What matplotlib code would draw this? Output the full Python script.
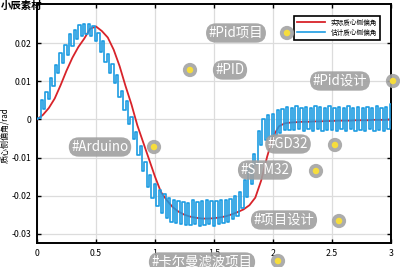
import numpy as np
import matplotlib
matplotlib.use("Agg")
import matplotlib.pyplot as plt

plt.rcParams['font.family'] = ['Noto Sans CJK SC', 'DejaVu Sans']
plt.rcParams['axes.unicode_minus'] = False

# actual sideslip angle (red), sampled every 0.05 s
red = [0.0000, 0.0012, 0.0030, 0.0055, 0.0090, 0.0128, 0.0162, 0.0190, 0.0212, 0.0238,
       0.0244, 0.0232, 0.0215, 0.0183, 0.0140, 0.0088, 0.0040, -0.0015, -0.0060, -0.0105,
       -0.0150, -0.0190, -0.0212, -0.0230, -0.0242, -0.0250, -0.0255, -0.0258, -0.0260, -0.0260,
       -0.0259, -0.0257, -0.0254, -0.0249, -0.0243, -0.0236, -0.0225, -0.0205, -0.0160, -0.0098,
       -0.0045, -0.0018, -0.0010, -0.0008, -0.0007, -0.0006, -0.0006, -0.0005, -0.0005, -0.0004,
       -0.0004, -0.0003, -0.0003, -0.0003, -0.0002, -0.0002, -0.0002, -0.0001, -0.0001, -0.0001,
       0.0000]

# estimated sideslip angle (blue), sampled every 0.02 s
blue = [0.0000, 0.0005, 0.0050, 0.0028, 0.0072, 0.0054, 0.0110, 0.0088, 0.0144, 0.0122,
        0.0175, 0.0148, 0.0195, 0.0170, 0.0223, 0.0193, 0.0236, 0.0210, 0.0247, 0.0218,
        0.0251, 0.0225, 0.0250, 0.0218, 0.0244, 0.0205, 0.0228, 0.0178, 0.0206, 0.0150,
        0.0173, 0.0123, 0.0145, 0.0095, 0.0118, 0.0058, 0.0076, 0.0025, 0.0048, -0.0012,
        0.0006, -0.0050, -0.0032, -0.0094, -0.0070, -0.0134, -0.0112, -0.0176, -0.0145, -0.0206,
        -0.0168, -0.0228, -0.0186, -0.0245, -0.0195, -0.0258, -0.0205, -0.0268, -0.0212, -0.0272,
        -0.0214, -0.0273, -0.0216, -0.0278, -0.0218, -0.0276, -0.0212, -0.0274, -0.0216, -0.0280,
        -0.0214, -0.0276, -0.0212, -0.0275, -0.0215, -0.0279, -0.0213, -0.0274, -0.0210, -0.0272,
        -0.0210, -0.0270, -0.0208, -0.0262, -0.0200, -0.0252, -0.0190, -0.0233, -0.0160, -0.0203,
        -0.0130, -0.0168, -0.0090, -0.0118, -0.0030, -0.0068, 0.0000, -0.0053, 0.0012, -0.0046,
        0.0015, -0.0042, 0.0024, -0.0035, 0.0028, -0.0028, 0.0034, -0.0028, 0.0031, -0.0027,
        0.0036, -0.0024, 0.0030, -0.0030, 0.0034, -0.0026, 0.0031, -0.0029, 0.0036, -0.0025,
        0.0032, -0.0030, 0.0029, -0.0027, 0.0035, -0.0028, 0.0030, -0.0031, 0.0033, -0.0025,
        0.0031, -0.0029, 0.0036, -0.0026, 0.0030, -0.0030, 0.0033, -0.0027, 0.0029, -0.0031,
        0.0034, -0.0026, 0.0031, -0.0029, 0.0035, -0.0027, 0.0030, -0.0030, 0.0033, -0.0025,
        0.0040]

t_red = np.linspace(0, 3, len(red))
t_blue = np.linspace(0, 3, len(blue))

legend_labels = ["实际质心侧偏角", "估计质心侧偏角"]
xticks = [0, 0.5, 1, 1.5, 2, 2.5, 3]
xtick_labels = ["0", "0.5", "1", "1.5", "2", "2.5", "3"]
yticks = [-0.03, -0.02, -0.01, 0, 0.01, 0.02]
ytick_labels = ["-0.03", "-0.02", "-0.01", "0", "0.01", "0.02"]

tags = ["#Pid项目", "#PID", "#Pid设计", "#Arduino", "#GD32", "#STM32", "#项目设计", "#卡尔曼滤波项目"]

fig = plt.figure(figsize=(4, 2.67), dpi=100)
ax = fig.add_axes([0.0925, 0.09, 0.885, 0.895])

ax.plot(t_red, red, color='#d8232a', lw=1.3, label=legend_labels[0], zorder=3)
ax.plot(t_blue, blue, color='#1c9ce2', lw=1.2, drawstyle='steps-mid', label=legend_labels[1], zorder=4)

ax.set_xlim(0, 3)
ax.set_ylim(-0.0324, 0.0303)
ax.set_xticks(xticks)
ax.set_xticklabels(xtick_labels)
ax.set_yticks(yticks)
ax.set_yticklabels(ytick_labels)
ax.tick_params(direction='in', length=3, width=1, labelsize=6.3, top=True, right=True, pad=4)
ax.grid(True, color='#dcdcdc', lw=0.9)
for s in ax.spines.values():
    s.set_linewidth(1.4)
ax.set_ylabel("质心侧偏角/rad", fontsize=5.8)
ax.yaxis.set_label_coords(-0.078, 0.45)

leg = ax.legend(loc='upper right', bbox_to_anchor=(0.978, 0.965), fontsize=4.8, handlelength=4.2,
                fancybox=False, framealpha=1, edgecolor='black', borderpad=0.45, labelspacing=0.3)
leg.get_frame().set_linewidth(1.2)

# overlay in pixel coordinates for the watermark and tags
ov = fig.add_axes([0, 0, 1, 1])
ov.set_xlim(0, 400)
ov.set_ylim(267, 0)
ov.axis('off')

ov.text(1, 6, "小辰素材", fontsize=7.5, fontweight='bold', style='italic', color='black', ha='left', va='center')

tag_pos = [(236, 33), (230, 70), (340, 81), (100, 147), (288, 144), (265, 170), (284, 220), (202, 262)]
dot_pos = [(287, 33), (190, 70), (393, 81), (154, 147), (335, 145), (316, 171), (339, 221), (278, 261)]

for label, (x, y) in zip(tags, tag_pos):
    ov.text(x, y, label, fontsize=9.6, color='white', ha='center', va='center',
            bbox=dict(boxstyle='round,pad=0.2,rounding_size=0.75', fc='#a0a0a0', ec='none', alpha=0.9))

dx = [p[0] for p in dot_pos]
dy = [p[1] for p in dot_pos]
ov.scatter(dx, dy, s=105, color='#a3a3a3', alpha=0.9, edgecolors='none', zorder=5)
ov.scatter(dx, dy, s=22, color='#f6dd3c', edgecolors='none', zorder=6)

fig.savefig("out.png", dpi=100)
